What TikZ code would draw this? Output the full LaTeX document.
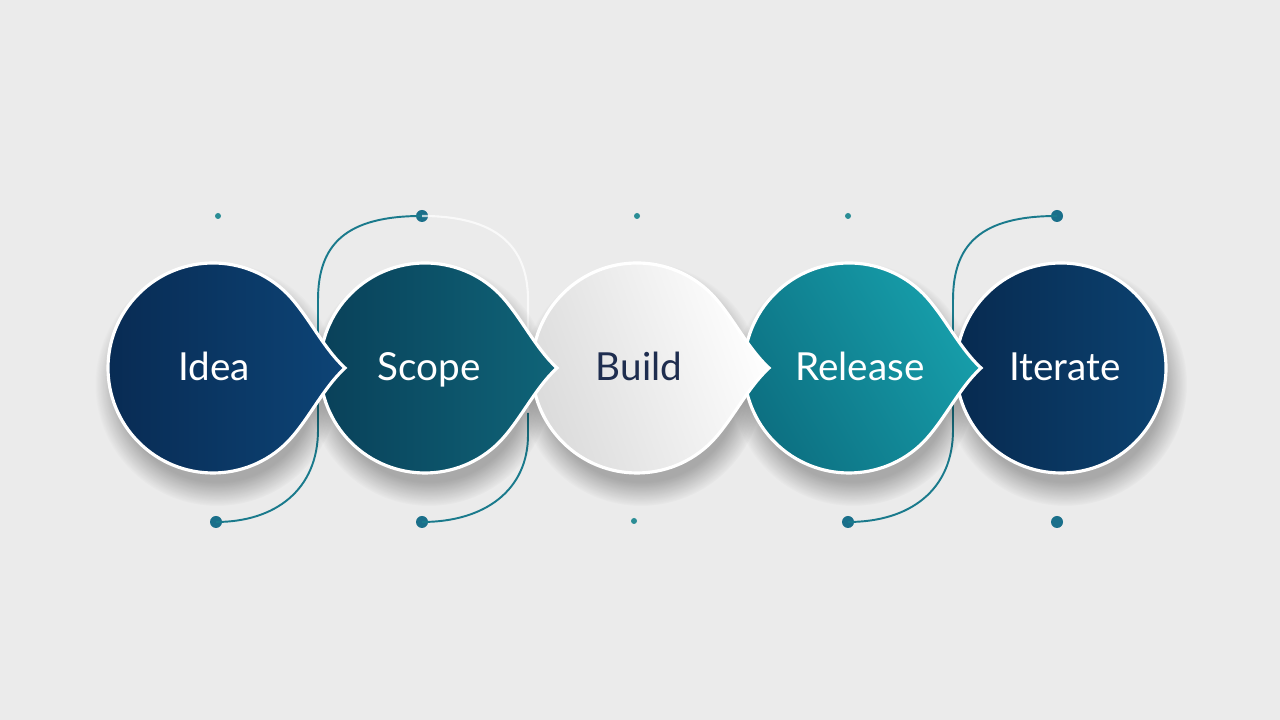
\documentclass[tikz,border=0pt]{standalone}
\usepackage{fontspec}
\setmainfont{Lato}
\usetikzlibrary{fadings}
\definecolor{bg}{HTML}{EBEBEB}
\definecolor{linkc}{HTML}{1A7A8C}
\definecolor{dotc}{HTML}{1A6F8A}
\definecolor{dotc2}{HTML}{2A8D95}
\definecolor{ideaA}{HTML}{082A52}
\definecolor{ideaB}{HTML}{0D4476}
\definecolor{scopeA}{HTML}{093F58}
\definecolor{scopeB}{HTML}{0F6478}
\definecolor{buildA}{HTML}{DADADA}
\definecolor{buildB}{HTML}{FFFFFF}
\definecolor{relA}{HTML}{0C6E80}
\definecolor{relB}{HTML}{17A0AC}
\definecolor{itA}{HTML}{072A50}
\definecolor{itB}{HTML}{0C4270}
\definecolor{buildtext}{HTML}{1E2D4F}
\begin{document}
\begin{tikzpicture}
\useasboundingbox (0,0) rectangle (12.8,7.2);
\fill[bg] (0,0) rectangle (12.8,7.2);
\tikzset{
 lbl/.style={font=\fontsize{11}{13}\selectfont, text=white, anchor=base, inner sep=0pt},
 link/.style={draw=linkc, line width=0.55pt},
 faint/.style={draw=white, line width=0.6pt, opacity=0.7},
 bigdot/.style={circle, fill=dotc, inner sep=0pt, minimum size=0.12cm},
 smalldot/.style={circle, fill=dotc2, inner sep=0pt, minimum size=0.06cm},
 shp/.style={draw=white, line width=0.9pt},
 shadowdisk/.style={fill=black, opacity=0.28, path fading=circle with fuzzy edge 20 percent},
}
% dots
\node[bigdot] (d1t) at (4.22,5.04) {};
\node[bigdot] (d1b) at (2.16,1.98) {};
\node[bigdot] (d2b) at (4.22,1.98) {};
\node[bigdot] (d3t) at (10.57,5.04) {};
\node[bigdot] (d3b) at (8.48,1.98) {};
\node[bigdot] (d4) at (10.57,1.98) {};
\node[smalldot] (s1) at (2.18,5.04) {};
\node[smalldot] (s2) at (6.37,5.04) {};
\node[smalldot] (s3) at (8.48,5.04) {};
\node[smalldot] (s4) at (6.34,1.99) {};
\coordinate (m2) at (5.28,3.07);
% connectors
\draw[link] (d1t.center) .. controls (3.45,5.04) and (3.18,4.75) .. (3.18,4.20) -- (3.18,2.90) .. controls (3.18,2.30) and (2.75,1.98) .. (d1b.center);
\draw[faint] (d1t.center) .. controls (4.95,5.04) and (5.28,4.75) .. (5.28,4.20) -- (m2);
\draw[link] (m2) -- (5.28,2.85) .. controls (5.28,2.30) and (4.85,1.98) .. (d2b.center);
\draw[link] (d3t.center) .. controls (9.80,5.04) and (9.53,4.75) .. (9.53,4.20) -- (9.53,2.90) .. controls (9.53,2.30) and (9.10,1.98) .. (d3b.center);
% shadows
\foreach \cx in {2.13,4.25,6.37,8.49,10.61}{
  \fill[shadowdisk] (\cx+0.04,3.36) circle[radius=1.22];
}
% shapes, right to left
\shade[shp, left color=itA, right color=itB] (10.61,3.52) circle[radius=1.05];
\begin{scope}[shift={(8.49,3.52)}]
\shade[shp, left color=relA, right color=relB, shading angle=120] (1.32,0) .. controls (1.10,0.20) and (0.95,0.53) .. (45:1.05) arc[start angle=45, end angle=315, radius=1.05] .. controls (0.95,-0.53) and (1.10,-0.20) .. cycle;
\end{scope}
\begin{scope}[shift={(6.37,3.52)}]
\shade[shp, left color=buildA, right color=buildB, shading angle=110] (1.32,0) .. controls (1.10,0.20) and (0.95,0.53) .. (45:1.05) arc[start angle=45, end angle=315, radius=1.05] .. controls (0.95,-0.53) and (1.10,-0.20) .. cycle;
\end{scope}
\begin{scope}[shift={(4.25,3.52)}]
\shade[shp, left color=scopeA, right color=scopeB] (1.32,0) .. controls (1.10,0.20) and (0.95,0.53) .. (45:1.05) arc[start angle=45, end angle=315, radius=1.05] .. controls (0.95,-0.53) and (1.10,-0.20) .. cycle;
\end{scope}
\begin{scope}[shift={(2.13,3.52)}]
\shade[shp, left color=ideaA, right color=ideaB] (1.32,0) .. controls (1.10,0.20) and (0.95,0.53) .. (45:1.05) arc[start angle=45, end angle=315, radius=1.05] .. controls (0.95,-0.53) and (1.10,-0.20) .. cycle;
\end{scope}
% labels
\node[lbl] (t1) at (2.14,3.39) {Idea};
\node[lbl] (t2) at (4.29,3.39) {Scope};
\node[lbl, text=buildtext] (t3) at (6.39,3.39) {Build};
\node[lbl] (t4) at (8.60,3.39) {Release};
\node[lbl] (t5) at (10.65,3.39) {Iterate};
\end{tikzpicture}
\end{document}
